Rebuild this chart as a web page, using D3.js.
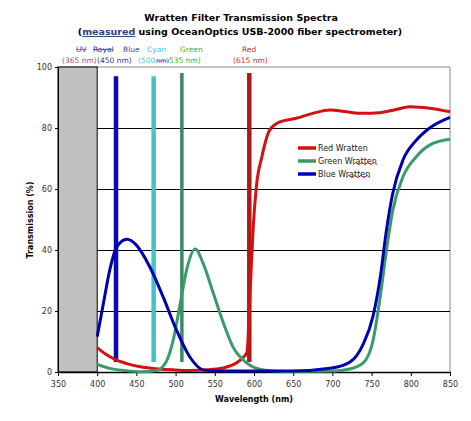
<!DOCTYPE html>
<html>
<head>
<meta charset="utf-8">
<script src="https://cdn.jsdelivr.net/npm/d3@7"></script>
<style>
    body { margin: 0; background: #fff; }
    text { font-family: "DejaVu Sans", Verdana, sans-serif; }
    .grid line { stroke: #000; stroke-width: 1; }
    .tick text { fill: #333; font-size: 8px; }
</style>
</head>
<body>
<svg id="chart" width="471" height="421"></svg>
<script>
// wavelength (nm) / transmission (%)
const redNm = [400, 410, 425, 440, 455, 475, 497, 518, 540, 560, 578, 585, 591, 595, 599, 603, 610, 620, 633, 654, 675, 697, 718, 739, 760, 780, 799, 824, 850];
const redT  = [8, 6, 3.9, 2.6, 1.7, 1.1, 0.7, 0.5, 0.7, 1.3, 3, 4.5, 6.5, 26, 47.5, 60.7, 70.5, 79.3, 82, 83.2, 84.8, 85.9, 85.3, 84.8, 85, 86, 87, 86.5, 85.3];

const greenNm = [400, 416, 435, 455, 476, 489, 497, 506, 514, 525, 535, 548, 561, 573, 591, 612, 640, 700, 722, 739, 752, 761, 769, 777, 790, 807, 824, 850];
const greenT  = [2.5, 1.2, 0.5, 0.1, 0.5, 3.9, 10.5, 22.6, 33.4, 40.3, 35.7, 25.9, 16, 8.3, 2.9, 0.7, 0.2, 0.3, 1, 2.9, 10.5, 24.7, 40, 53, 64, 70.6, 74.4, 76.3];

const blueNm = [400, 408, 416, 425, 438, 450, 467, 484, 501, 518, 535, 550, 600, 650, 697, 722, 739, 752, 761, 769, 777, 790, 807, 824, 850];
const blueT  = [11.6, 22.6, 33.4, 41, 43.5, 41.6, 34.5, 24.7, 13.8, 5, 0.7, 0.3, 0.3, 0.3, 1.2, 3.2, 9, 18.5, 31, 46.6, 58.6, 69.5, 76, 80, 83.5];

// marker bars for the LED lines
const barNm   = [424, 472, 508, 594];
const barLow  = [3.3, 3.3, 3.3, 3.3];
const barHigh = [97, 97, 98, 98];
const barColors = ["#0a0ab4", "#40c4c8", "#3a8a64", "#b01818"];

const uvBand = [350, 400];
const xTicks = [350, 400, 450, 500, 550, 600, 650, 700, 750, 800, 850];
const yTicks = [0, 20, 40, 60, 80, 100];

const seriesNames = ["Red Wratten", "Green Wratten", "Blue Wratten"];
const seriesColors = ["#d41010", "#3a9a6a", "#0000b0"];

let svg = d3.select("#chart");

let x = d3.scaleLinear().domain([350, 850]).range([58, 450]);
let y = d3.scaleLinear().domain([0, 100]).range([372, 67]);

// titles
svg.append("text").attr("x", 241).attr("y", 21).attr("text-anchor", "middle")
    .style("font-size", "9.5px").style("font-weight", "bold")
    .text("Wratten Filter Transmission Spectra");

let sub = svg.append("text").attr("x", 240).attr("y", 35).attr("text-anchor", "middle")
    .style("font-size", "9.5px").style("font-weight", "bold");
sub.append("tspan").text("(");
sub.append("tspan").attr("fill", "#304080").style("text-decoration", "underline").text("measured");
sub.append("tspan").text(" using OceanOptics USB-2000 fiber spectrometer)");

// color labels above the plot
let labels = [
    {t: "UV", x: 76, y: 52, c: "#6a4a9a", strike: true},
    {t: "Royal", x: 93, y: 52, c: "#3a3ab0", strike: true},
    {t: "Blue", x: 123, y: 52, c: "#4848c0"},
    {t: "Cyan", x: 147, y: 52, c: "#48c8d0"},
    {t: "Green", x: 180, y: 52, c: "#40b040"},
    {t: "Red", x: 242, y: 52, c: "#d03030"},
    {t: "(365 nm)", x: 62, y: 63, c: "#a05088"},
    {t: "(450 nm)", x: 97, y: 63, c: "#404090"},
    {t: "(500", x: 138, y: 63, c: "#48c8d0"},
    {t: "nm)", x: 156, y: 63, c: "#3060b0", strike: true, size: 6.5},
    {t: "535 nm)", x: 169, y: 63, c: "#40b040"},
    {t: "(615 nm)", x: 233, y: 63, c: "#d03030"}
];
svg.selectAll(".hdr").data(labels).enter().append("text")
    .attr("class", "hdr")
    .attr("x", d => d.x).attr("y", d => d.y)
    .attr("fill", d => d.c)
    .style("font-size", d => (d.size || 7.5) + "px")
    .style("text-decoration", d => d.strike ? "line-through" : null)
    .text(d => d.t);

// plot frame (top + right in gray)
svg.append("path")
    .attr("d", `M${x(350)},${y(100)}H${x(850)}V${y(0)}`)
    .attr("fill", "none").attr("stroke", "#888").attr("stroke-width", 1);

// horizontal gridlines
svg.append("g").attr("class", "grid").selectAll("line")
    .data(yTicks.filter(d => d > 0 && d < 100)).enter().append("line")
    .attr("x1", x(350)).attr("x2", x(850))
    .attr("y1", d => y(d) + 0.5).attr("y2", d => y(d) + 0.5);

// UV cut-off band
svg.append("rect")
    .attr("x", x(uvBand[0])).attr("y", y(100))
    .attr("width", x(uvBand[1]) - x(uvBand[0]))
    .attr("height", y(0) - y(100))
    .attr("fill", "#c0c0c0").attr("stroke", "#000").attr("stroke-width", 1);

// axes
let xAxis = svg.append("g").attr("transform", `translate(0,${y(0)})`)
    .call(d3.axisBottom(x).tickValues(xTicks).tickSize(4).tickSizeOuter(0).tickPadding(5));
xAxis.select(".domain").attr("stroke", "#000").attr("stroke-width", 1.5);

let yAxis = svg.append("g").attr("transform", `translate(${x(350)},0)`)
    .call(d3.axisLeft(y).tickValues(yTicks).tickSize(3).tickSizeOuter(0).tickPadding(3));
yAxis.select(".domain").attr("stroke", "#000");

svg.append("text").attr("x", 254).attr("y", 402).attr("text-anchor", "middle")
    .style("font-size", "8px").style("font-weight", "bold")
    .text("Wavelength (nm)");

svg.append("text").attr("transform", "translate(33,220) rotate(-90)")
    .attr("text-anchor", "middle")
    .style("font-size", "8px").style("font-weight", "bold")
    .text("Transmission (%)");

// bars
svg.selectAll(".bar").data(barNm).enter().append("line")
    .attr("class", "bar")
    .attr("x1", d => x(d)).attr("x2", d => x(d))
    .attr("y1", (d, i) => y(barHigh[i])).attr("y2", (d, i) => y(barLow[i]))
    .attr("stroke", (d, i) => barColors[i])
    .attr("stroke-width", (d, i) => i == 2 ? 3.5 : 4.5);

// spectra
let line = d3.line()
    .x(d => x(d[0])).y(d => y(d[1]))
    .curve(d3.curveMonotoneX);

let series = [
    d3.zip(redNm, redT),
    d3.zip(greenNm, greenT),
    d3.zip(blueNm, blueT)
];
svg.selectAll(".spec").data(series).enter().append("path")
    .attr("class", "spec")
    .attr("d", line)
    .attr("fill", "none")
    .attr("stroke", (d, i) => seriesColors[i])
    .attr("stroke-width", 3)
    .attr("stroke-linejoin", "round");

// legend
let leg = svg.append("g").selectAll("g").data(seriesNames).enter().append("g")
    .attr("transform", (d, i) => `translate(298,${148 + i * 13})`);
leg.append("line").attr("x1", 0).attr("x2", 18)
    .attr("stroke", (d, i) => seriesColors[i]).attr("stroke-width", 3.5);
leg.append("text").attr("x", 20).attr("y", 3)
    .style("font-size", "8px").attr("fill", "#222")
    .text(d => d);

// spell-check squiggle under "ratten" in the last two entries
leg.filter((d, i) => i > 0).append("path")
    .attr("d", function(d) {
        let start = d == seriesNames[1] ? 55 : 48;
        return d3.range(9).map(k => (k ? "L" : "M") + (start + k * 3) + "," + (k % 2 ? 1 : 4)).join("");
    })
    .attr("fill", "none").attr("stroke", "#d02020").attr("stroke-width", 0.8);
</script>
</body>
</html>
